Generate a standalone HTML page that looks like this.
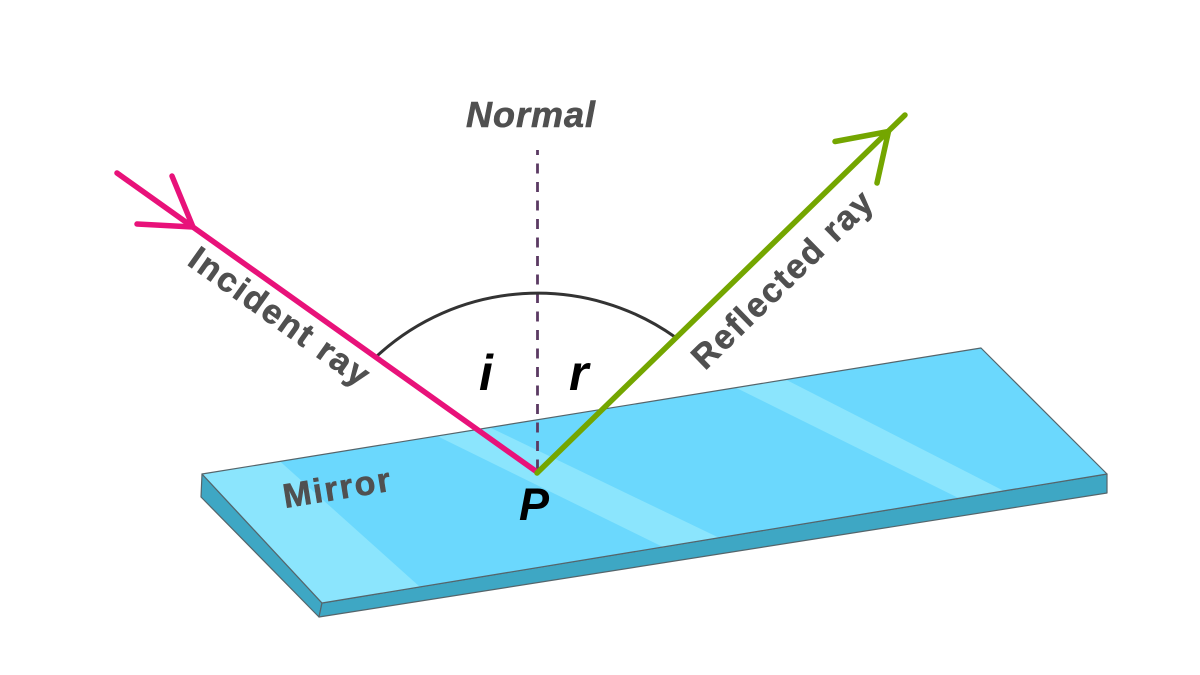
<!DOCTYPE html>
<html>
<head>
<meta charset="utf-8">
<style>
  html, body { margin: 0; padding: 0; background: #ffffff; }
  body { width: 1200px; height: 675px; overflow: hidden; }
  svg { display: block; }
  .lbl { font-family: "Liberation Sans", Arial, sans-serif; font-weight: bold; fill: #505050; stroke: #505050; stroke-width: 0.6; }
  .sym { font-family: "Liberation Sans", Arial, sans-serif; font-weight: bold; font-style: italic; fill: #000; }
</style>
</head>
<body>
<svg width="1200" height="675" viewBox="0 0 1200 675" xmlns="http://www.w3.org/2000/svg">
  <!-- Mirror slab -->
  <polygon points="202,474 322,603 319,617 201,497" fill="#3ea7c4" stroke="#55656b" stroke-width="1.2" stroke-linejoin="round"/>
  <polygon points="322,603 1107,474 1107,493 319,617" fill="#3ea7c4" stroke="#55656b" stroke-width="1.2" stroke-linejoin="round"/>
  <polygon points="202,474 981,348 1107,474 322,603" fill="#6bd8fd"/>
  <!-- light stripes -->
  <polygon points="202,474 280,461.4 420,587 322,603" fill="#8be5fd"/>
  <polygon points="437,436 490,427.5 719,537.8 663,547" fill="#8be5fd"/>
  <polygon points="736,387.8 786,379.7 1004,491 959,498.3" fill="#8be5fd"/>
  <polygon points="202,474 981,348 1107,474 322,603" fill="none" stroke="#55656b" stroke-width="1.2" stroke-linejoin="round"/>

  <!-- Normal (dashed) -->
  <line x1="537.5" y1="150" x2="537.5" y2="472" stroke="#5b3a63" stroke-width="2.8" stroke-dasharray="10 8.5" stroke-dashoffset="5"/>

  <!-- Angle arc -->
  <path d="M377,356 A237,237 0 0,1 675,337" fill="none" stroke="#333333" stroke-width="3"/>

  <!-- Incident ray -->
  <line x1="117" y1="173" x2="537" y2="472" stroke="#e8127a" stroke-width="5.5" stroke-linecap="round"/>
  <polyline points="172,176 193,227 137,224" fill="none" stroke="#e8127a" stroke-width="5.5" stroke-linecap="round" stroke-linejoin="round"/>

  <!-- Reflected ray -->
  <line x1="537" y1="473" x2="905" y2="115" stroke="#74a600" stroke-width="5.5" stroke-linecap="round"/>
  <polyline points="835,141.5 888.5,131.5 877,183" fill="none" stroke="#74a600" stroke-width="5.5" stroke-linecap="round" stroke-linejoin="round"/>

  <!-- Labels -->
  <text class="lbl" x="531" y="127" font-size="36" font-style="italic" text-anchor="middle" letter-spacing="1">Normal</text>
  <text class="lbl" font-size="34" letter-spacing="2" transform="translate(186,264) rotate(35.5)">Incident ray</text>
  <text class="lbl" font-size="34" letter-spacing="2" transform="translate(705,371) rotate(-44.3)">Reflected ray</text>
  <text class="lbl" font-size="34" letter-spacing="2" transform="translate(285,508) rotate(-9.2)">Mirror</text>

  <text class="sym" x="479" y="390" font-size="50">i</text>
  <text class="sym" x="569" y="390" font-size="50">r</text>
  <text class="sym" x="519" y="520" font-size="45">P</text>
</svg>
</body>
</html>
